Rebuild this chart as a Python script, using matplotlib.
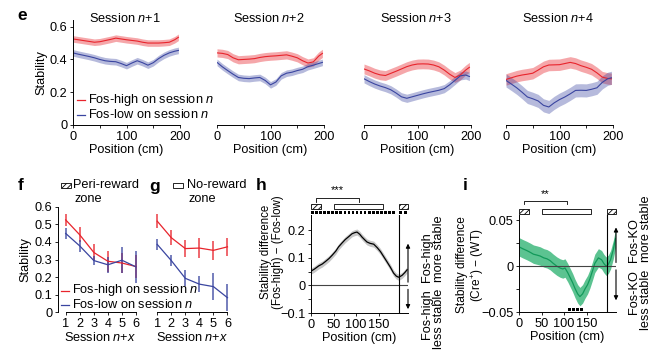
import numpy as np
import matplotlib
matplotlib.use("Agg")
import matplotlib.pyplot as plt
from matplotlib.patches import Rectangle
from matplotlib.lines import Line2D

plt.rcParams['font.family'] = ['Liberation Sans', 'DejaVu Sans']
plt.rcParams['font.size'] = 9.2
plt.rcParams['mathtext.fontset'] = 'custom'
plt.rcParams['mathtext.rm'] = 'Liberation Sans'
plt.rcParams['mathtext.it'] = 'Liberation Sans:italic'
plt.rcParams['axes.linewidth'] = 0.7
plt.rcParams['hatch.linewidth'] = 0.6

# ---- panel e: stability along the track, sessions n+1 .. n+4
pos_e = [0, 10, 20, 30, 40, 50, 60, 70, 80, 90, 100, 110, 120, 130, 140, 150, 160, 170, 180, 190, 197]
e_titles = ['1', '2', '3', '4']
e_high = [
    [0.525, 0.52, 0.515, 0.51, 0.505, 0.508, 0.515, 0.522, 0.53, 0.525, 0.52, 0.516, 0.512, 0.505, 0.5, 0.5, 0.5, 0.502, 0.505, 0.52, 0.535],
    [0.44, 0.437, 0.43, 0.41, 0.398, 0.4, 0.402, 0.405, 0.412, 0.417, 0.42, 0.422, 0.425, 0.428, 0.42, 0.41, 0.392, 0.378, 0.385, 0.42, 0.437],
    [0.342, 0.33, 0.316, 0.306, 0.302, 0.315, 0.328, 0.342, 0.356, 0.366, 0.372, 0.373, 0.372, 0.366, 0.355, 0.335, 0.31, 0.29, 0.305, 0.335, 0.352],
    [0.278, 0.288, 0.298, 0.305, 0.31, 0.316, 0.335, 0.355, 0.366, 0.367, 0.368, 0.375, 0.382, 0.375, 0.362, 0.352, 0.34, 0.318, 0.292, 0.284, 0.282],
]
e_low = [
    [0.44, 0.432, 0.425, 0.418, 0.41, 0.4, 0.392, 0.388, 0.386, 0.375, 0.362, 0.378, 0.392, 0.38, 0.365, 0.38, 0.405, 0.425, 0.44, 0.45, 0.455],
    [0.382, 0.355, 0.332, 0.31, 0.29, 0.285, 0.283, 0.287, 0.29, 0.272, 0.245, 0.262, 0.3, 0.316, 0.322, 0.332, 0.34, 0.356, 0.365, 0.375, 0.382],
    [0.282, 0.265, 0.25, 0.238, 0.228, 0.215, 0.195, 0.172, 0.163, 0.172, 0.181, 0.19, 0.198, 0.205, 0.212, 0.222, 0.245, 0.272, 0.3, 0.305, 0.296],
    [0.272, 0.25, 0.227, 0.2, 0.171, 0.16, 0.147, 0.12, 0.11, 0.135, 0.155, 0.171, 0.19, 0.211, 0.212, 0.211, 0.218, 0.227, 0.26, 0.282, 0.288],
]
e_high_sem = [0.02, 0.025, 0.03, 0.035]
e_low_sem = [0.02, 0.02, 0.025, 0.04]

# ---- panels f, g: stability vs session
sessions = [1, 2, 3, 4, 5, 6]
f_high = [0.525, 0.44, 0.34, 0.29, 0.28, 0.26]
f_high_err = [0.036, 0.043, 0.05, 0.06, 0.055, 0.065]
f_low = [0.448, 0.377, 0.294, 0.27, 0.296, 0.258]
f_low_err = [0.03, 0.033, 0.025, 0.047, 0.075, 0.09]
g_high = [0.518, 0.424, 0.362, 0.365, 0.352, 0.372]
g_high_err = [0.038, 0.043, 0.05, 0.055, 0.055, 0.05]
g_low = [0.386, 0.294, 0.193, 0.16, 0.146, 0.083]
g_low_err = [0.03, 0.03, 0.045, 0.047, 0.075, 0.075]

# ---- panel h: Fos-high minus Fos-low
pos_h = [0, 8, 17, 25, 32, 40, 47, 55, 61, 68, 76, 84, 91, 97, 102, 108, 113, 119, 124, 131, 139, 147, 154, 161, 168, 176, 183, 189, 194, 198, 202, 208, 213]
diff_h = [0.052, 0.06, 0.071, 0.078, 0.087, 0.098, 0.11, 0.125, 0.14, 0.153, 0.167, 0.178, 0.188, 0.192, 0.194, 0.186, 0.176, 0.166, 0.158, 0.153, 0.15, 0.137, 0.123, 0.105, 0.087, 0.066, 0.045, 0.034, 0.03, 0.033, 0.037, 0.047, 0.057]
sem_h = 0.011
sig_h = [3, 12, 21, 30, 39, 48, 57, 66, 75, 84, 93, 102, 111, 120, 129, 138, 147, 156, 165, 174, 183, 199, 209]

# ---- panel i: Cre+ minus WT
pos_i = [0, 8, 17, 25, 32, 40, 47, 55, 62, 69, 76, 84, 91, 97, 102, 108, 113, 119, 124, 130, 135, 141, 146, 152, 157, 163, 168, 176, 183, 188, 193, 198, 203, 209, 214]
diff_i = [0.021, 0.019, 0.017, 0.015, 0.013, 0.012, 0.011, 0.009, 0.008, 0.006, 0.003, 0.0, -0.002, -0.003, -0.002, -0.007, -0.012, -0.018, -0.024, -0.03, -0.033, -0.03, -0.025, -0.02, -0.014, -0.005, 0.003, 0.009, 0.007, 0.003, 0.0, 0.002, 0.007, 0.018, 0.03]
sem_i = 0.01
sig_i = [112, 121, 130, 139]

peri_zones = [(0, 22), (194, 215)]
noreward_zone = (52, 160)
reward_pos = 194

RED = '#e8242c'
BLUE = '#3a45a0'
GREEN = '#12995a'

W, H = 666, 353
fig = plt.figure(figsize=(W / 100, H / 100), dpi=100)


def add_ax(l, r, t, b):
    return fig.add_axes([l / W, 1 - b / H, (r - l) / W, (b - t) / H])


def ftext(x, y, s, **kw):
    return fig.text(x / W, 1 - y / H, s, **kw)


def clean(ax):
    for s in ['top', 'right']:
        ax.spines[s].set_visible(False)
    ax.tick_params(direction='out', length=2.5, width=0.6, pad=1.5)


# panel e
e_left = [73, 217, 364, 506]
for k in range(4):
    ax = add_ax(e_left[k], e_left[k] + 107, 20.1, 125)
    hi = np.array(e_high[k])
    lo = np.array(e_low[k])
    ax.fill_between(pos_e, hi - e_high_sem[k], hi + e_high_sem[k], color=RED, alpha=0.4, lw=0)
    ax.fill_between(pos_e, lo - e_low_sem[k], lo + e_low_sem[k], color=BLUE, alpha=0.37, lw=0)
    ax.plot(pos_e, hi, color=RED, lw=0.8)
    ax.plot(pos_e, lo, color=BLUE, lw=0.8)
    ax.set_xlim(0, 200)
    ax.set_ylim(0, 0.64)
    clean(ax)
    ax.set_xticks([0, 50, 100, 150, 200], ['0', '', '100', '', '200'])
    ax.set_xlabel('Position (cm)', labelpad=1)
    if k == 0:
        ax.set_yticks([0, 0.2, 0.4, 0.6], ['0', '0.2', '0.4', '0.6'])
        ax.set_ylabel('Stability', labelpad=2)
    else:
        ax.spines['left'].set_visible(False)
        ax.set_yticks([])
    ftext(e_left[k] + 52, 18, 'Session $\\mathit{n}$+' + e_titles[k], ha='center', va='center')

# legend e
for yy, col, lab in [(100, RED, 'Fos-high'), (114.5, BLUE, 'Fos-low')]:
    fig.add_artist(Line2D([77 / W, 84.5 / W], [1 - yy / H, 1 - yy / H], color=col, lw=0.9))
    ftext(88, yy, lab + ' on session $\\mathit{n}$', ha='left', va='center')

# panels f, g
for ax_l, hi, hie, lo, loe, left_axis in [(57.7, f_high, f_high_err, f_low, f_low_err, True),
                                           (149.2, g_high, g_high_err, g_low, g_low_err, False)]:
    ax = add_ax(ax_l, ax_l + 85.3, 206.7, 312.3)
    ax.errorbar(sessions, hi, yerr=hie, color=RED, lw=0.9, elinewidth=1.3, ecolor=RED, capsize=0, clip_on=False)
    ax.errorbar(sessions, lo, yerr=loe, color=BLUE, lw=0.9, elinewidth=1.3, ecolor=BLUE, capsize=0, clip_on=False)
    for c in ax.collections:
        c.set_alpha(0.75)
    ax.set_xlim(0.43, 6.5)
    ax.set_ylim(0, 0.6)
    clean(ax)
    ax.spines['bottom'].set_bounds(1, 6)
    ax.set_xticks(sessions)
    ax.set_xlabel('Session $\\mathit{n}$+$\\mathit{x}$', labelpad=1)
    if left_axis:
        ax.set_yticks([0, 0.1, 0.2, 0.3, 0.4, 0.5, 0.6], ['0', '0.1', '0.2', '0.3', '0.4', '0.5', '0.6'])
        ax.set_ylabel('Stability', labelpad=2)
    else:
        ax.spines['left'].set_visible(False)
        ax.set_yticks([])

for yy, col, lab in [(290.5, RED, 'Fos-high'), (304.5, BLUE, 'Fos-low')]:
    fig.add_artist(Line2D([61 / W, 68.5 / W], [1 - yy / H, 1 - yy / H], color=col, lw=0.9))
    ftext(71.5, yy, lab + ' on session $\\mathit{n}$', ha='left', va='center')

# zone legends
fig.add_artist(Rectangle((60.5 / W, 1 - 187.5 / H), 10 / W, 4.5 / H, transform=fig.transFigure,
                         fill=False, hatch='//////', lw=0.6, ec='k'))
ftext(73.5, 185, 'Peri-reward', ha='left', va='center')
ftext(74.5, 199.5, 'zone', ha='left', va='center')
fig.add_artist(Rectangle((173 / W, 1 - 187.5 / H), 10 / W, 4.5 / H, transform=fig.transFigure,
                         fill=False, lw=0.6, ec='k'))
ftext(186.5, 185, 'No-reward', ha='left', va='center')
ftext(188, 199.5, 'zone', ha='left', va='center')


def diff_panel(ax, pos, vals, sem, line_col, fill_col, fill_alpha, ylim, box_y, br_y, stars):
    v = np.array(vals)
    ax.fill_between(pos, v - sem, v + sem, color=fill_col, alpha=fill_alpha, lw=0)
    ax.plot(pos, v, color=line_col, lw=0.9)
    ax.axhline(0, color='#444444', lw=0.8)
    ax.axvline(reward_pos, color='k', lw=0.8)
    ax.set_xlim(0, 215)
    ax.set_ylim(*ylim)
    clean(ax)
    ax.set_xticks([0, 50, 100, 150])
    ax.set_xlabel('Position (cm)', labelpad=1)
    # zone boxes
    for z0, z1 in peri_zones:
        ax.add_patch(Rectangle((z0, box_y[0]), z1 - z0, box_y[1] - box_y[0], fill=False,
                               hatch='//////', lw=0.6, ec='k', clip_on=False))
    ax.add_patch(Rectangle((noreward_zone[0], box_y[0]), noreward_zone[1] - noreward_zone[0],
                           box_y[1] - box_y[0], fill=False, lw=0.6, ec='k', clip_on=False))
    # significance bracket
    bx0 = (peri_zones[0][0] + peri_zones[0][1]) / 2
    bx1 = (noreward_zone[0] + noreward_zone[1]) / 2
    ax.plot([bx0, bx0, bx1, bx1], [br_y[0], br_y[1], br_y[1], br_y[0]], color='k', lw=0.6, clip_on=False)
    ax.text((bx0 + bx1) / 2, br_y[1] + (br_y[1] - br_y[0]) * 0.5, stars, ha='center', va='bottom', fontsize=8)


def sig_marks(ax, xs, y0, height):
    bars = ax.bar(xs, [height] * len(xs), width=5.8, bottom=y0, color='k', lw=0)
    for b in bars:
        b.set_clip_on(False)


# panel h
ax_h = add_ax(311, 408, 215, 313)
diff_panel(ax_h, pos_h, diff_h, sem_h, 'k', '#b8b8b8', 0.8, (-0.1, 0.256), (0.277, 0.295), (0.303, 0.319), '***')
ax_h.set_ylim(-0.1, 0.256)
ax_h.set_yticks([-0.1, 0, 0.1, 0.2], ['\u22120.1', '0', '0.1', '0.2'])
ax_h.set_yticks([-0.05, 0.05, 0.15], minor=True)
ax_h.tick_params(which='minor', direction='out', length=2.5, width=0.6)
sig_marks(ax_h, sig_h, 0.259, 0.011)
tr = ax_h.get_yaxis_transform()
ax_h.annotate('', xy=(1.0, 0.152), xytext=(1.0, 0.012), xycoords=tr, textcoords=tr,
              arrowprops=dict(arrowstyle='-|>', lw=0.8, color='k', mutation_scale=6, shrinkA=0, shrinkB=0))
ax_h.annotate('', xy=(1.0, -0.086), xytext=(1.0, -0.014), xycoords=tr, textcoords=tr,
              arrowprops=dict(arrowstyle='-|>', lw=0.8, color='k', mutation_scale=6, shrinkA=0, shrinkB=0))
ftext(272, 252, 'Stability difference\n(Fos-high) \u2212 (Fos-low)', rotation=90, ha='center', va='center',
      multialignment='center', linespacing=1.05, fontsize=8.3)
ftext(433, 282, 'Fos-high\nmore stable', rotation=90, ha='center', va='bottom', multialignment='left', linespacing=1.05)
ftext(433, 289, 'Fos-high\nless stable', rotation=90, ha='center', va='top', multialignment='right', linespacing=1.05)

# panel i
ax_i = add_ax(519, 616, 215, 312.3)
diff_panel(ax_i, pos_i, diff_i, sem_i, GREEN, '#5cc391', 1.0, (-0.05, 0.0555), (0.0571, 0.0616), (0.067, 0.0711), '**')
ax_i.set_ylim(-0.05, 0.0555)
ax_i.set_yticks([-0.05, 0, 0.05], ['\u22120.05', '0', '0.05'])
ax_i.set_yticks([-0.025, 0.025], minor=True)
ax_i.tick_params(which='minor', direction='out', length=2.5, width=0.6)
sig_marks(ax_i, sig_i, -0.0485, 0.0033)
tr = ax_i.get_yaxis_transform()
ax_i.annotate('', xy=(1.0, 0.042), xytext=(1.0, 0.004), xycoords=tr, textcoords=tr,
              arrowprops=dict(arrowstyle='-|>', lw=0.8, color='k', mutation_scale=6, shrinkA=0, shrinkB=0))
ax_i.annotate('', xy=(1.0, -0.037), xytext=(1.0, -0.004), xycoords=tr, textcoords=tr,
              arrowprops=dict(arrowstyle='-|>', lw=0.8, color='k', mutation_scale=6, shrinkA=0, shrinkB=0))
ftext(471, 265, 'Stability difference\n(Cre$^{+}$) \u2212 (WT)', rotation=90, ha='center', va='center',
      multialignment='center', linespacing=1.05, fontsize=8.6)
ftext(640, 262, 'Fos-KO\nmore stable', rotation=90, ha='center', va='bottom', multialignment='left', linespacing=1.05)
ftext(640, 270, 'Fos-KO\nless stable', rotation=90, ha='center', va='top', multialignment='right', linespacing=1.05)

# panel letters
for x, y, s in [(22, 15, 'e'), (21, 186, 'f'), (155, 186, 'g'), (261, 185, 'h'), (465, 186, 'i')]:
    ftext(x, y, s, ha='center', va='center', fontsize=12.5, fontweight='bold')

fig.savefig('out.png', dpi=100)
